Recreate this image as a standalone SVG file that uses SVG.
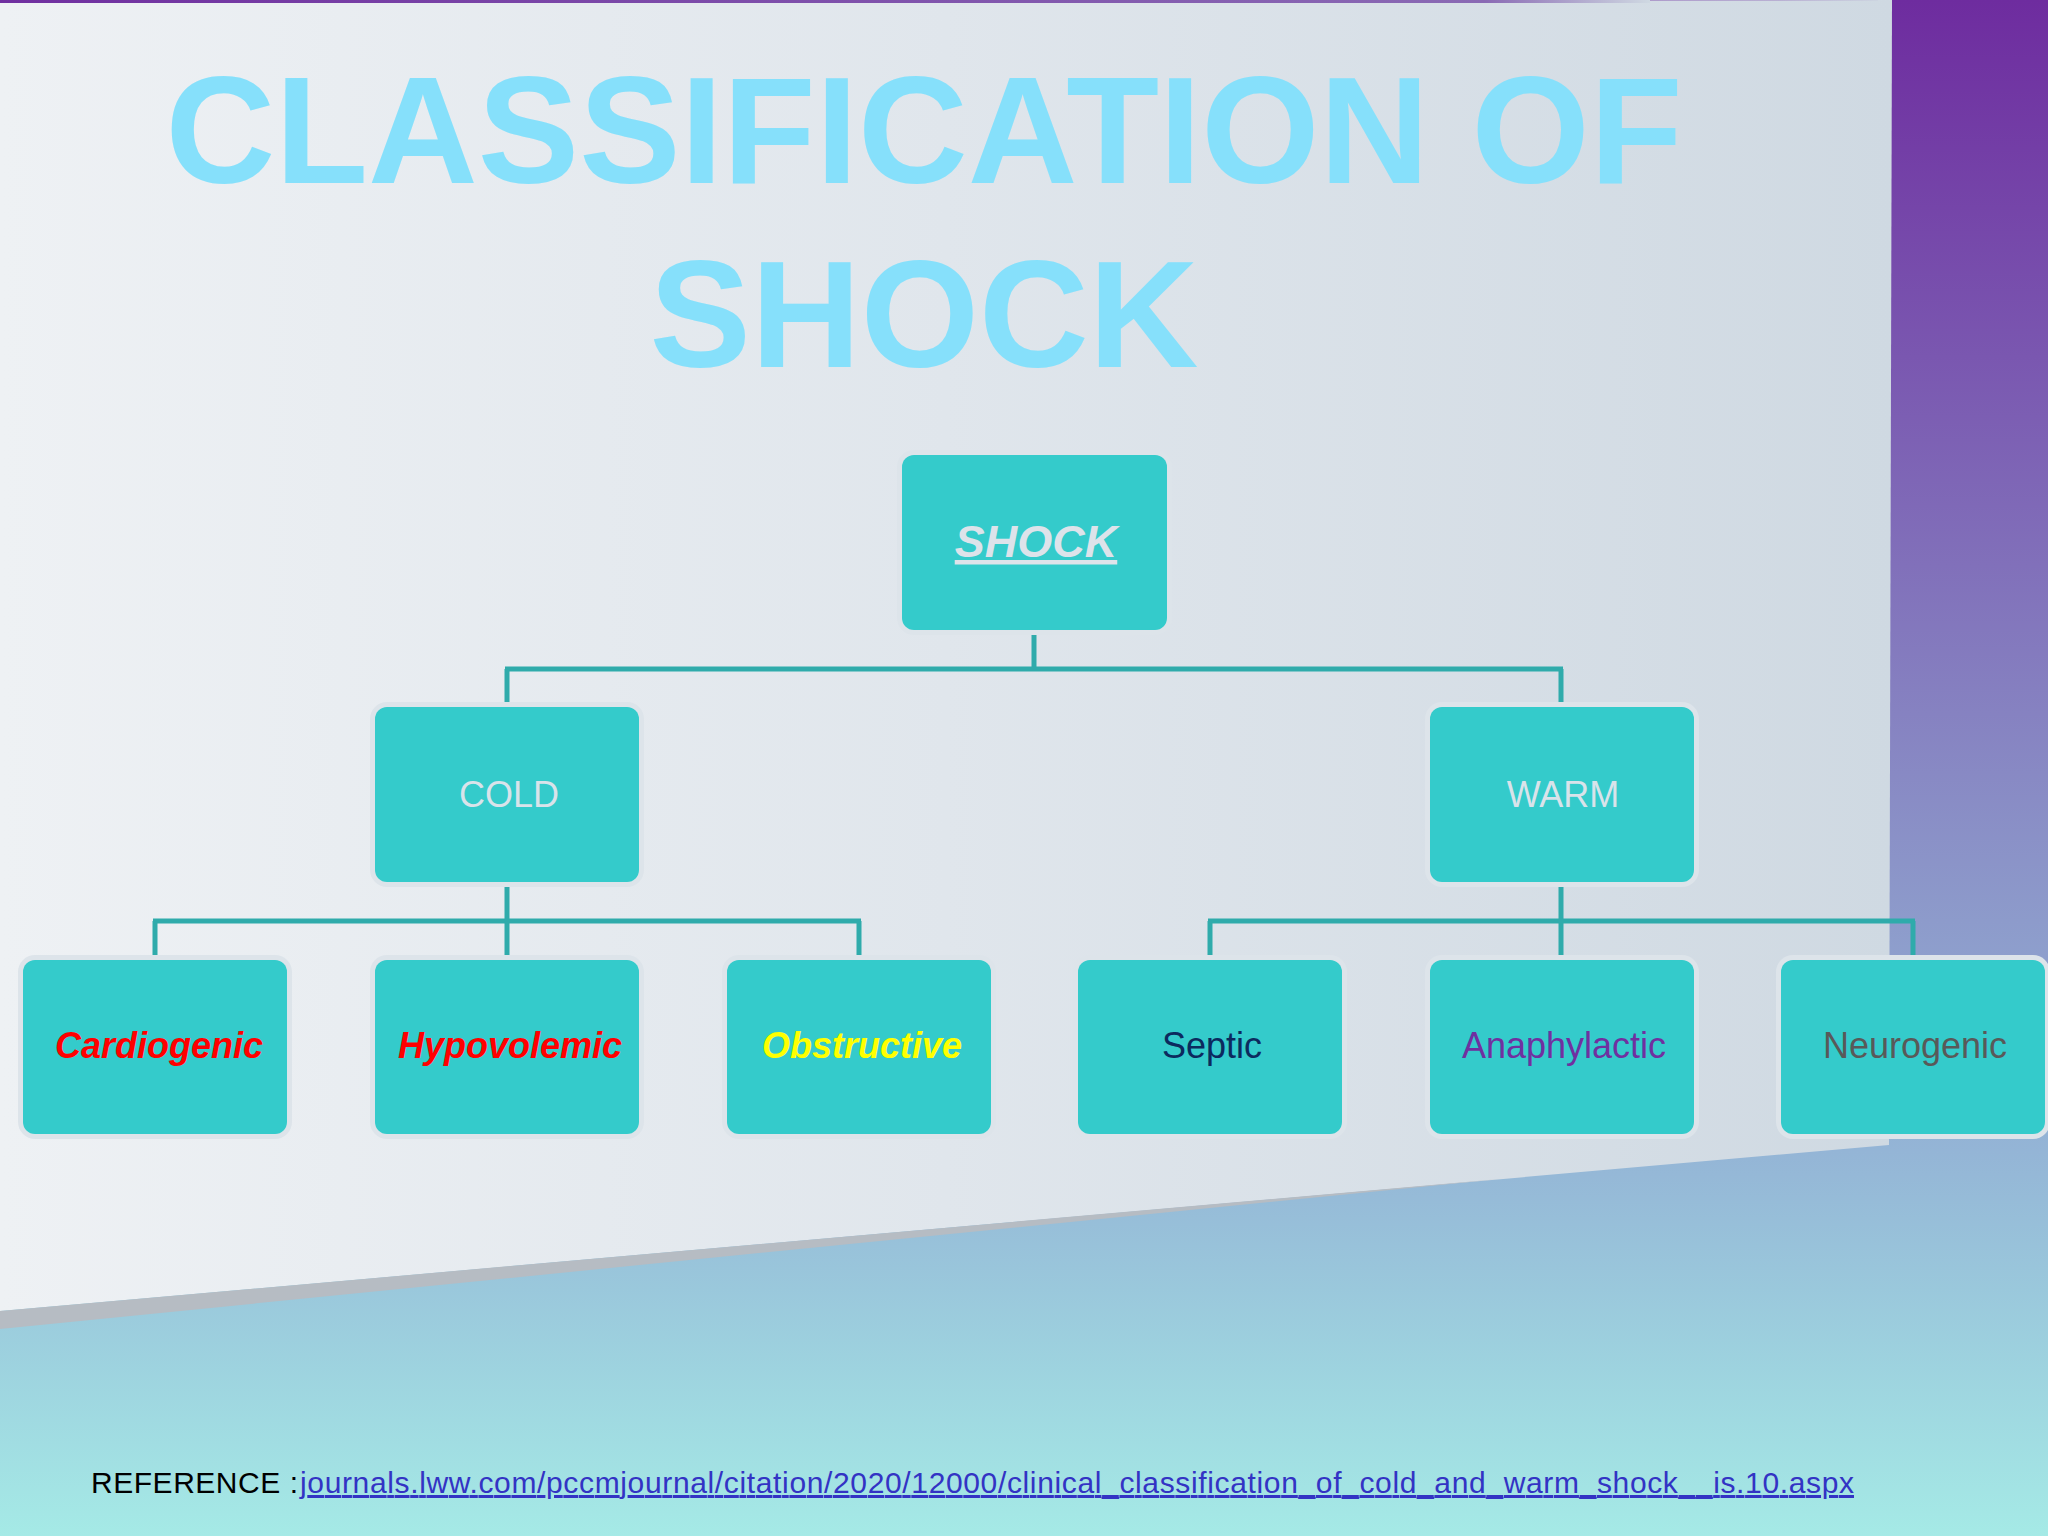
<svg xmlns="http://www.w3.org/2000/svg" width="2048" height="1536" viewBox="0 0 2048 1536">
  <defs>
    <linearGradient id="bg" x1="0" y1="0" x2="0" y2="1536" gradientUnits="userSpaceOnUse">
      <stop offset="0" stop-color="#6e2c9f"/>
      <stop offset="0.6" stop-color="#8d9bcb"/>
      <stop offset="0.75" stop-color="#94b5d6"/>
      <stop offset="1" stop-color="#a5eae6"/>
    </linearGradient>
    <linearGradient id="panel" x1="0" y1="0" x2="1892" y2="0" gradientUnits="userSpaceOnUse">
      <stop offset="0" stop-color="#eef1f4"/>
      <stop offset="0.5" stop-color="#e0e6ec"/>
      <stop offset="1" stop-color="#cfd9e2"/>
    </linearGradient>
    <linearGradient id="topline" x1="0" y1="0" x2="1650" y2="0" gradientUnits="userSpaceOnUse">
      <stop offset="0" stop-color="#7030a0"/>
      <stop offset="0.9" stop-color="#8a6ab4"/>
      <stop offset="1" stop-color="#cfd9e2"/>
    </linearGradient>
    <style>
      .halo { fill: #dde4ea; }
      .box { fill: #34cbcb; }
      .lbl { font-family: "Liberation Sans", Arial, sans-serif; font-size: 36px; text-anchor: middle; }
      .bi { font-weight: bold; font-style: italic; }
      .title { font-family: "Liberation Sans", Arial, sans-serif; font-size: 152px; font-weight: bold; fill: #86e0fb; text-anchor: middle; }
      .conn { stroke: #2fabab; stroke-width: 5; fill: none; }
    </style>
  </defs>

  <!-- background -->
  <rect x="0" y="0" width="2048" height="1536" fill="url(#bg)"/>
  <polygon points="0,3 1892,0 1889,1145 0,1311" fill="url(#panel)"/>
  <polygon points="0,1311 1500,1179 0,1329" fill="#b6bcc3"/>
  <rect x="0" y="0" width="1650" height="3" fill="url(#topline)"/>

  <!-- title -->
  <text class="title" x="924" y="183">CLASSIFICATION OF</text>
  <text class="title" x="924" y="367">SHOCK</text>

  <!-- connectors -->
  <g id="connectors">
    <path class="conn" d="M1034,632 V669 M505,669 H1563 M507,669 V707 M1561,669 V707"/>
    <path class="conn" d="M507,882 V921 M153,921 H861 M155,921 V960 M507,921 V960 M859,921 V960"/>
    <path class="conn" d="M1561,882 V921 M1208,921 H1915 M1210,921 V960 M1561,921 V960 M1913,921 V960"/>
  </g>

  <!-- nodes -->
  <g id="node-shock">
    <rect class="halo" x="897" y="450" width="275" height="185" rx="17"/>
    <rect class="box" x="902" y="455" width="265" height="175" rx="12"/>
    <text class="lbl bi" x="1036" y="557" style="font-size:45px" fill="#dde3ea" text-decoration="underline">SHOCK</text>
  </g>
  <g id="node-cold">
    <rect class="halo" x="370" y="702" width="274" height="185" rx="17"/>
    <rect class="box" x="375" y="707" width="264" height="175" rx="12"/>
    <text class="lbl" x="509" y="807" fill="#d9e3ea">COLD</text>
  </g>
  <g id="node-warm">
    <rect class="halo" x="1425" y="702" width="274" height="185" rx="17"/>
    <rect class="box" x="1430" y="707" width="264" height="175" rx="12"/>
    <text class="lbl" x="1563" y="807" fill="#d9e3ea">WARM</text>
  </g>
  <g id="node-cardiogenic">
    <rect class="halo" x="18" y="955" width="274" height="184" rx="17"/>
    <rect class="box" x="23" y="960" width="264" height="174" rx="12"/>
    <text class="lbl bi" x="159" y="1058" fill="#ff0000">Cardiogenic</text>
  </g>
  <g id="node-hypovolemic">
    <rect class="halo" x="370" y="955" width="274" height="184" rx="17"/>
    <rect class="box" x="375" y="960" width="264" height="174" rx="12"/>
    <text class="lbl bi" x="510" y="1058" fill="#ff0000">Hypovolemic</text>
  </g>
  <g id="node-obstructive">
    <rect class="halo" x="722" y="955" width="274" height="184" rx="17"/>
    <rect class="box" x="727" y="960" width="264" height="174" rx="12"/>
    <text class="lbl bi" x="862" y="1058" fill="#ffff00">Obstructive</text>
  </g>
  <g id="node-septic">
    <rect class="halo" x="1073" y="955" width="274" height="184" rx="17"/>
    <rect class="box" x="1078" y="960" width="264" height="174" rx="12"/>
    <text class="lbl" x="1212" y="1058" fill="#0c2a5e">Septic</text>
  </g>
  <g id="node-anaphylactic">
    <rect class="halo" x="1425" y="955" width="274" height="184" rx="17"/>
    <rect class="box" x="1430" y="960" width="264" height="174" rx="12"/>
    <text class="lbl" x="1564" y="1058" fill="#7030a0">Anaphylactic</text>
  </g>
  <g id="node-neurogenic">
    <rect class="halo" x="1776" y="955" width="274" height="184" rx="17"/>
    <rect class="box" x="1781" y="960" width="264" height="174" rx="12"/>
    <text class="lbl" x="1915" y="1058" fill="#595959">Neurogenic</text>
  </g>

  <!-- reference -->
  <text x="91" y="1493" font-family="'Liberation Sans', Arial, sans-serif" font-size="30" fill="#000000" textLength="207">REFERENCE :</text>
  <text x="300" y="1493" font-family="'Liberation Sans', Arial, sans-serif" font-size="30" fill="#3333c4" text-decoration="underline" textLength="1554">journals.lww.com/pccmjournal/citation/2020/12000/clinical_classification_of_cold_and_warm_shock__is.10.aspx</text>
</svg>
